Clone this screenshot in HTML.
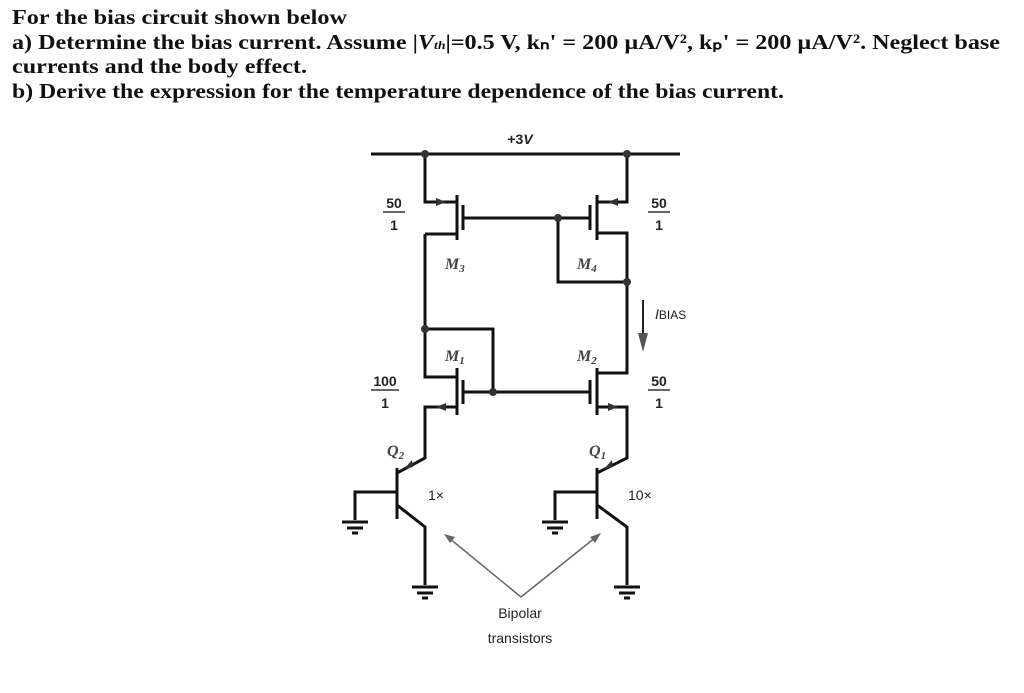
<!DOCTYPE html>
<html><head><style>
html,body{margin:0;padding:0;background:#fff;}
svg{display:block;}
.t{font-family:"Liberation Serif",serif;font-weight:bold;font-size:21px;fill:#111;}
.s{font-family:"Liberation Sans",sans-serif;font-size:14px;fill:#222;}
.i{font-family:"Liberation Serif",serif;font-style:italic;font-weight:bold;font-size:16px;fill:#444;}
</style></head><body>
<svg width="1024" height="693" viewBox="0 0 1024 693" xmlns="http://www.w3.org/2000/svg">
<text class="t" x="12" y="24" textLength="335" lengthAdjust="spacingAndGlyphs">For the bias circuit shown below</text>
<text class="t" x="12" y="49" textLength="988" lengthAdjust="spacingAndGlyphs">a) Determine the bias current. Assume |<tspan font-style="italic">V<tspan font-size="12">th</tspan></tspan>|=0.5 V, kₙ' = 200 µA/V², kₚ' = 200 µA/V². Neglect base</text>
<text class="t" x="12" y="73" textLength="295" lengthAdjust="spacingAndGlyphs">currents and the body effect.</text>
<text class="t" x="12" y="98" textLength="772" lengthAdjust="spacingAndGlyphs">b) Derive the expression for the temperature dependence of the bias current.</text>

<g stroke="#111" stroke-width="3" fill="none" stroke-linejoin="miter">
<line x1="371" y1="154" x2="680" y2="154"/>
<polyline points="425,154 425,202 457,202"/>
<line x1="457" y1="195" x2="457" y2="240"/>
<line x1="463" y1="205" x2="463" y2="230"/>
<polyline points="425,234 457,234"/>
<line x1="463" y1="218" x2="590" y2="218"/>
<polyline points="627,154 627,202 597,202"/>
<line x1="597" y1="195" x2="597" y2="240"/>
<line x1="590" y1="205" x2="590" y2="230"/>
<polyline points="597,233 627,233 627,373 597,373"/>
<polyline points="558,218 558,282 627,282"/>
<polyline points="425,234 425,377 457,377"/>
<polyline points="425,329 493,329 493,392"/>
<line x1="457" y1="368" x2="457" y2="415"/>
<line x1="463" y1="380" x2="463" y2="404"/>
<line x1="463" y1="392" x2="590" y2="392"/>
<polyline points="457,407 425,407 425,458 397,473"/>
<line x1="597" y1="368" x2="597" y2="415"/>
<line x1="590" y1="380" x2="590" y2="404"/>
<polyline points="597,407 627,407 627,458 597,473"/>
<line x1="397" y1="468" x2="397" y2="519"/>
<polyline points="397,492 355,492 355,520"/>
<polyline points="397,505 425,527 425,585"/>
<line x1="597" y1="468" x2="597" y2="519"/>
<polyline points="597,492 555,492 555,520"/>
<polyline points="597,505 627,527 627,585"/>
</g>
<g stroke="#111" stroke-width="3">
<line x1="342" y1="522" x2="368" y2="522"/><line x1="347" y1="528" x2="363" y2="528"/><line x1="352" y1="533" x2="358" y2="533"/>
<line x1="542" y1="522" x2="568" y2="522"/><line x1="547" y1="528" x2="563" y2="528"/><line x1="552" y1="533" x2="558" y2="533"/>
<line x1="412" y1="587" x2="438" y2="587"/><line x1="417" y1="593" x2="433" y2="593"/><line x1="422" y1="598" x2="428" y2="598"/>
<line x1="614" y1="587" x2="640" y2="587"/><line x1="619" y1="593" x2="635" y2="593"/><line x1="624" y1="598" x2="630" y2="598"/>
</g>
<g fill="#333">
<circle cx="425" cy="154" r="4"/><circle cx="627" cy="154" r="4"/>
<circle cx="558" cy="218" r="4"/><circle cx="627" cy="282" r="4"/>
<circle cx="425" cy="329" r="4"/><circle cx="493" cy="392" r="4"/>
<polygon points="436,198 446,202 436,206"/>
<polygon points="618,198 608,202 618,206"/>
<polygon points="446,403 436,407 446,411"/>
<polygon points="608,403 618,407 608,411"/>
<polygon points="404,469 412,460 413,467"/>
<polygon points="604,469 612,460 613,467"/>
</g>
<line x1="643" y1="300" x2="643" y2="335" stroke="#222" stroke-width="2"/>
<polygon points="638,333 648,333 643,352" fill="#555"/>
<text class="s" x="655" y="319" font-style="italic" font-size="15">I<tspan font-style="normal" font-size="12">BIAS</tspan></text>
<g stroke="#666" stroke-width="1.5"><line x1="521" y1="597" x2="449" y2="538"/><line x1="521" y1="597" x2="596" y2="537"/></g>
<polygon points="444,534 455,537 450,543" fill="#666"/>
<polygon points="601,533 595,543 590,537" fill="#666"/>
<text class="s" x="520" y="618" text-anchor="middle" font-size="17">Bipolar</text>
<text class="s" x="520" y="643" text-anchor="middle" font-size="17">transistors</text>
<text class="s" x="520" y="144" text-anchor="middle" font-weight="bold">+3<tspan font-style="italic">V</tspan></text>
<g class="s" text-anchor="middle" font-size="15" font-weight="bold" fill="#333">
<text x="394" y="208">50</text><text x="394" y="230">1</text>
<text x="659" y="208">50</text><text x="659" y="230">1</text>
<text x="385" y="386">100</text><text x="385" y="408">1</text>
<text x="659" y="386">50</text><text x="659" y="408">1</text>
</g>
<g stroke="#333" stroke-width="1.5">
<line x1="383" y1="212" x2="405" y2="212"/><line x1="648" y1="212" x2="670" y2="212"/>
<line x1="371" y1="390" x2="399" y2="390"/><line x1="648" y1="390" x2="670" y2="390"/>
</g>
<text class="i" x="445" y="269">M<tspan font-size="11" dy="3">3</tspan></text>
<text class="i" x="577" y="269">M<tspan font-size="11" dy="3">4</tspan></text>
<text class="i" x="445" y="361">M<tspan font-size="11" dy="3">1</tspan></text>
<text class="i" x="577" y="361">M<tspan font-size="11" dy="3">2</tspan></text>
<text class="i" x="387" y="456">Q<tspan font-size="11" dy="3">2</tspan></text>
<text class="i" x="589" y="456">Q<tspan font-size="11" dy="3">1</tspan></text>
<text class="s" x="428" y="500" font-size="15">1×</text>
<text class="s" x="628" y="500" font-size="15">10×</text>
</svg>
</body></html>
